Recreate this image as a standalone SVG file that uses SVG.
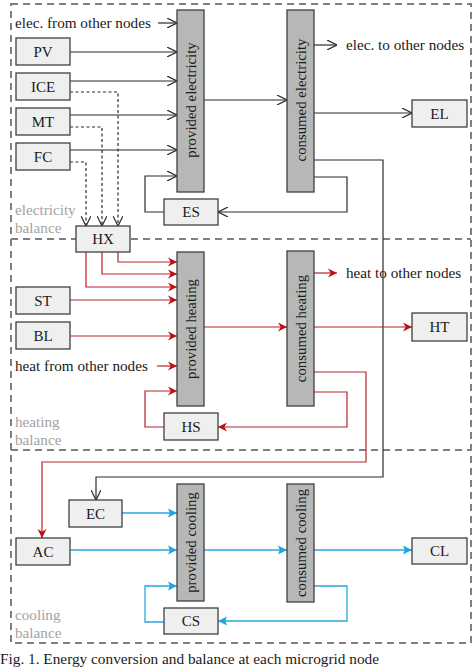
<svg xmlns="http://www.w3.org/2000/svg" width="474" height="668" viewBox="0 0 474 668" font-family="'Liberation Serif', 'Times New Roman', serif">
<defs>
<style>
.bg{fill:#ffffff}
.sec{fill:none;stroke:#7f7f7f;stroke-width:2;stroke-dasharray:7,5}
.box{fill:#efefef;stroke:#3f3f3f;stroke-width:1.3}
.bar{fill:#b7b7b7;stroke:#3f3f3f;stroke-width:1.3}
.t{font-size:15px;fill:#1a1a1a}
.tc{text-anchor:middle;dominant-baseline:central}
.s{font-size:15.2px;fill:#1a1a1a}
.v{font-size:14.8px;fill:#1a1a1a}
.g{font-size:15.2px;fill:#a3a3a3}
.k{fill:none;stroke:#2b2b2b;stroke-width:1.2;marker-end:url(#ak)}
.kd{fill:none;stroke:#2b2b2b;stroke-width:1.2;stroke-dasharray:3,2.5;marker-end:url(#ak)}
.r{fill:none;stroke:#b8242b;stroke-width:1.2;marker-end:url(#ar)}
.b{fill:none;stroke:#29a8df;stroke-width:1.3;marker-end:url(#ab)}
</style>
<marker id="ak" viewBox="0 0 10 10" refX="10" refY="5" markerWidth="10" markerHeight="10" markerUnits="userSpaceOnUse" orient="auto">
<path d="M0,0 L10,5 L0,10" fill="none" stroke="#2b2b2b" stroke-width="1.2"/>
</marker>
<marker id="ar" viewBox="0 0 10 10" refX="10" refY="5" markerWidth="9" markerHeight="10" markerUnits="userSpaceOnUse" orient="auto">
<path d="M0,0 L10,5 L0,10 L3,5 z" fill="#c00d14"/>
</marker>
<marker id="ab" viewBox="0 0 10 10" refX="10" refY="5" markerWidth="9" markerHeight="10" markerUnits="userSpaceOnUse" orient="auto">
<path d="M0,0 L10,5 L0,10 L2,5 z" fill="#1ba6e2"/>
</marker>
</defs>
<rect class="bg" x="0" y="0" width="474" height="668"/>

<g id="sections">
<rect class="sec" x="11" y="4" width="460" height="639"/>
<line class="sec" x1="11" y1="239" x2="471" y2="239"/>
<line class="sec" x1="11" y1="450" x2="471" y2="450"/>
<text class="g" x="15" y="215">electricity</text>
<text class="g" x="15" y="233">balance</text>
<text class="g" x="15" y="427">heating</text>
<text class="g" x="15" y="445">balance</text>
<text class="g" x="15" y="620">cooling</text>
<text class="g" x="15" y="638">balance</text>
</g>

<g id="connectors">
<path class="k" d="M158,23 H177"/>
<path class="k" d="M70,52 H177"/>
<path class="k" d="M70,81 H177"/>
<path class="k" d="M70,115 H177"/>
<path class="k" d="M70,150 H177"/>
<path class="kd" d="M70,92 H118 V226"/>
<path class="kd" d="M70,127 H102 V226"/>
<path class="kd" d="M70,162 H86 V226"/>
<path class="k" d="M164,212 H145 V176 H177"/>
<path class="k" d="M204,100 H287"/>
<path class="k" d="M314,45 H337"/>
<path class="k" d="M314,113 H412"/>
<path class="k" d="M314,177 H347 V212 H218"/>
<path class="k" d="M314,160 H383 V477 H96 V500"/>
<path class="r" d="M118,252 V262 H177"/>
<path class="r" d="M102,252 V274 H177"/>
<path class="r" d="M86,252 V287 H177"/>
<path class="r" d="M70,300 H177"/>
<path class="r" d="M70,336 H177"/>
<path class="r" d="M157,366 H177"/>
<path class="r" d="M164,427 H145 V391 H177"/>
<path class="r" d="M204,327 H287"/>
<path class="r" d="M314,273 H337"/>
<path class="r" d="M314,327 H412"/>
<path class="r" d="M314,392 H347 V427 H218"/>
<path class="r" d="M314,372 H366 V462 H42 V538"/>
<path class="b" d="M122,513 H177"/>
<path class="b" d="M70,550 H177"/>
<path class="b" d="M164,622 H145 V586 H177"/>
<path class="b" d="M204,550 H287"/>
<path class="b" d="M314,550 H412"/>
<path class="b" d="M314,586 H347 V621 H218"/>
</g>

<g id="elec-from"><text class="s" x="15" y="28">elec. from other nodes</text></g>
<g id="elec-to"><text class="s" x="346" y="50">elec. to other nodes</text></g>
<g id="heat-from"><text class="s" x="15" y="371">heat from other nodes</text></g>
<g id="heat-to"><text class="s" x="346" y="278">heat to other nodes</text></g>

<g id="PV"><rect class="box" x="16" y="38" width="54" height="27"/><text class="t tc" x="43" y="51.5">PV</text></g>
<g id="ICE"><rect class="box" x="16" y="73" width="54" height="27"/><text class="t tc" x="43" y="86.5">ICE</text></g>
<g id="MT"><rect class="box" x="16" y="108" width="54" height="27"/><text class="t tc" x="43" y="121.5">MT</text></g>
<g id="FC"><rect class="box" x="16" y="143" width="54" height="27"/><text class="t tc" x="43" y="156.5">FC</text></g>
<g id="ES"><rect class="box" x="164" y="199" width="54" height="26"/><text class="t tc" x="191" y="212">ES</text></g>
<g id="EL"><rect class="box" x="412" y="100" width="55" height="27"/><text class="t tc" x="439.5" y="113.5">EL</text></g>
<g id="provided-electricity"><rect class="bar" x="177" y="10" width="27" height="182"/><text class="v tc" transform="translate(190.5,100) rotate(-90)">provided electricity</text></g>
<g id="consumed-electricity"><rect class="bar" x="287" y="10" width="27" height="182"/><text class="v tc" transform="translate(300.5,100) rotate(-90)">consumed electricity</text></g>

<g id="HX"><rect class="box" x="76" y="226" width="54" height="26"/><text class="t tc" x="103" y="239">HX</text></g>
<g id="ST"><rect class="box" x="16" y="287" width="54" height="27"/><text class="t tc" x="43" y="300.5">ST</text></g>
<g id="BL"><rect class="box" x="16" y="322" width="54" height="27"/><text class="t tc" x="43" y="335.5">BL</text></g>
<g id="HS"><rect class="box" x="164" y="413" width="54" height="27"/><text class="t tc" x="191" y="426.5">HS</text></g>
<g id="HT"><rect class="box" x="412" y="313" width="55" height="28"/><text class="t tc" x="439.5" y="327">HT</text></g>
<g id="provided-heating"><rect class="bar" x="177" y="252" width="27" height="154"/><text class="v tc" transform="translate(190.5,329) rotate(-90)">provided heating</text></g>
<g id="consumed-heating"><rect class="bar" x="287" y="251" width="27" height="155"/><text class="v tc" transform="translate(300.5,328.5) rotate(-90)">consumed heating</text></g>

<g id="EC"><rect class="box" x="69" y="500" width="53" height="27"/><text class="t tc" x="95.5" y="513.5">EC</text></g>
<g id="AC"><rect class="box" x="16" y="538" width="54" height="27"/><text class="t tc" x="43" y="551.5">AC</text></g>
<g id="CS"><rect class="box" x="164" y="608" width="54" height="26"/><text class="t tc" x="191" y="621">CS</text></g>
<g id="CL"><rect class="box" x="412" y="538" width="55" height="26"/><text class="t tc" x="439.5" y="551">CL</text></g>
<g id="provided-cooling"><rect class="bar" x="177" y="484" width="27" height="117"/><text class="v tc" transform="translate(190.5,542.5) rotate(-90)">provided cooling</text></g>
<g id="consumed-cooling"><rect class="bar" x="287" y="484" width="27" height="118"/><text class="v tc" transform="translate(300.5,543) rotate(-90)">consumed cooling</text></g>

<g id="caption"><text class="s" x="0" y="664" style="font-size:15.3px">Fig. 1. Energy conversion and balance at each microgrid node</text></g>
</svg>
